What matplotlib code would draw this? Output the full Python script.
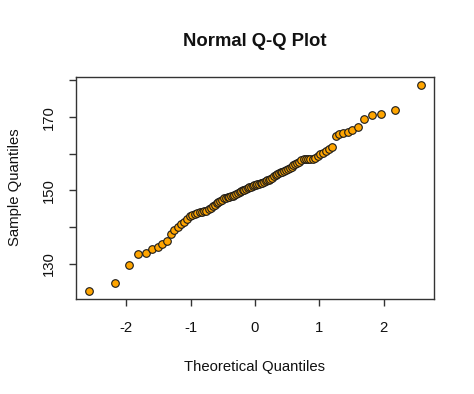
import matplotlib
matplotlib.use("Agg")
import matplotlib.pyplot as plt
from statistics import NormalDist

plt.rcParams['font.family'] = ['Liberation Sans', 'DejaVu Sans']

title = "Normal Q-Q Plot"
x_label = "Theoretical Quantiles"
y_label = "Sample Quantiles"

# sorted sample values, n = 100
sample_low = [122.6, 124.8, 129.6, 132.7, 133.0, 134.0, 134.6, 135.5, 136.1, 138.0]
sample_mid_a = [139.2, 140.0, 140.7, 141.5, 142.3, 143.0, 143.3, 143.6, 143.8, 144.0,
                144.1, 144.3, 144.5, 144.8, 145.2, 145.7, 146.1, 146.5, 146.9, 147.2,
                147.5, 147.8, 148.0, 148.2, 148.3, 148.5, 148.6, 148.8, 149.0, 149.2,
                149.5, 149.8, 150.0, 150.2, 150.5, 150.7, 150.9, 151.0, 151.2, 151.4]
sample_mid_b = [151.5, 151.7, 151.8, 152.0, 152.1, 152.3, 152.5, 152.7, 152.9, 153.2,
                153.5, 153.8, 154.1, 154.4, 154.7, 154.9, 155.1, 155.4, 155.6, 155.8,
                156.0, 156.4, 156.8, 157.2, 157.5, 157.8, 158.2, 158.5, 158.7, 158.7,
                158.7, 158.7, 158.8, 159.5, 159.9, 160.3, 160.8, 161.3, 161.8]
sample_high = [164.9, 165.3, 165.6, 166.0, 166.5, 167.2, 169.5, 170.6, 170.8, 171.9, 178.7]

x_ticks = [-2, -1, 0, 1, 2]
y_ticks = [130, 140, 150, 160, 170, 180]
y_tick_labels = ["130", "", "150", "", "170", ""]

sample = sorted(sample_low + sample_mid_a + sample_mid_b + sample_high)
n = len(sample)
# theoretical quantiles as in R's qqnorm (ppoints with a = 0.5)
nd = NormalDist()
theo = [nd.inv_cdf((i + 0.5) / n) for i in range(n)]

W, H = 474, 394
fig = plt.figure(figsize=(W / 100, H / 100), dpi=100)
ax = fig.add_axes([76 / W, (H - 299) / H, (434 - 76) / W, (299 - 77) / H])

ax.scatter(theo, sample, s=30, facecolor="#FFA500", edgecolor="#1a1a1a",
           linewidths=0.8, zorder=3)

def ext(lo, hi):
    r = hi - lo
    return lo - 0.04 * r, hi + 0.04 * r

ax.set_xlim(*ext(min(theo), max(theo)))
ax.set_ylim(*ext(min(sample), max(sample)))

ax.set_xticks(x_ticks)
ax.set_xticklabels([str(t) for t in x_ticks])
ax.set_yticks(y_ticks)
ax.set_yticklabels(y_tick_labels, rotation=90, va="center")

for s in ax.spines.values():
    s.set_color("#333333")
    s.set_linewidth(1.0)
ax.tick_params(axis="both", length=5.2, width=1.0, color="#333333",
               labelsize=10.7, labelcolor="#111111")
ax.tick_params(axis="x", pad=11)
ax.tick_params(axis="y", pad=9)

fig.text(255 / W, 1 - 45.7 / H, title, ha="center", va="baseline",
         fontsize=13.3, fontweight="bold", color="#111111")
fig.text(255 / W, 1 - 371 / H, x_label, ha="center", va="baseline",
         fontsize=10.7, color="#111111")
fig.text(15 / W, 1 - 187.5 / H, y_label, ha="center", va="center",
         rotation=90, fontsize=10.7, color="#111111")

fig.savefig("out.png", dpi=100, facecolor="white")
